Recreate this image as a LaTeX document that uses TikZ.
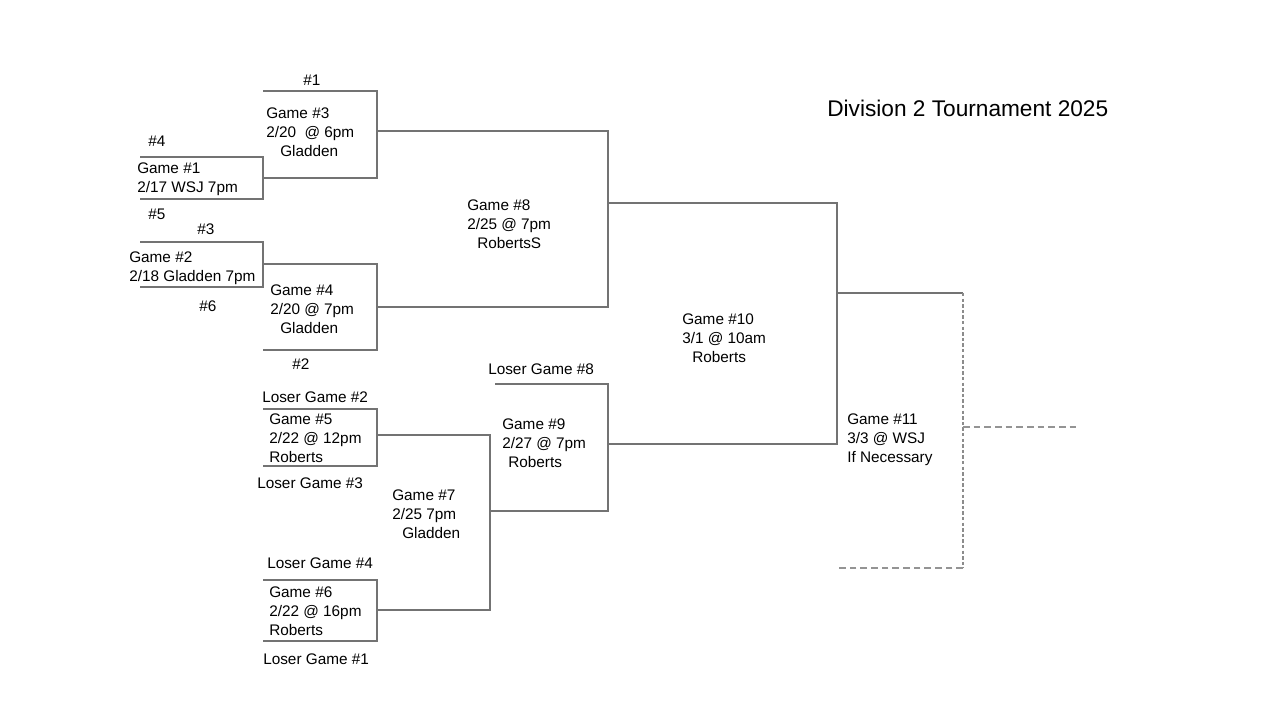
\documentclass[tikz,border=0pt]{standalone}
\usepackage{fontspec}
\setmainfont{Liberation Sans}
\begin{document}
\begin{tikzpicture}[x=0.75pt, y=-0.75pt,
    line/.style={draw=black!55, line width=1.9pt},
    dotline/.style={draw=black!45, line width=2pt, dash pattern=on 2.6pt off 1.6pt},
    dashline/.style={draw=black!42, line width=2pt, dash pattern=on 5pt off 3pt},
    game/.style={font=\fontsize{11.5}{14.25}\selectfont, inner sep=0pt, align=left, anchor=north west},
    seed/.style={font=\fontsize{11.5}{14.25}\selectfont, inner sep=0pt, anchor=west}]
    \useasboundingbox (0,0) rectangle (1280,720);
    \coordinate (A1) at (140, 157);
    \coordinate (A2) at (263, 157);
    \coordinate (A3) at (263, 199);
    \coordinate (A4) at (140, 199);
    \coordinate (AM) at (263, 178);
    \coordinate (B1) at (140, 242);
    \coordinate (B2) at (263, 242);
    \coordinate (B3) at (263, 287);
    \coordinate (B4) at (140, 287);
    \coordinate (BM) at (263, 264);
    \coordinate (C1) at (263, 91);
    \coordinate (C2) at (377, 91);
    \coordinate (C3) at (377, 178);
    \coordinate (CM) at (377, 131);
    \coordinate (D2) at (377, 264);
    \coordinate (D3) at (377, 350);
    \coordinate (D4) at (263, 350);
    \coordinate (DM) at (377, 307);
    \coordinate (H1) at (608, 131);
    \coordinate (H2) at (608, 307);
    \coordinate (HM) at (608, 203);
    \coordinate (E1) at (263, 409);
    \coordinate (E2) at (377, 409);
    \coordinate (E3) at (377, 466);
    \coordinate (E4) at (263, 466);
    \coordinate (EM) at (377, 435);
    \coordinate (F1) at (263, 580);
    \coordinate (F2) at (377, 580);
    \coordinate (F3) at (377, 641);
    \coordinate (F4) at (263, 641);
    \coordinate (FM) at (377, 610);
    \coordinate (S1) at (490, 435);
    \coordinate (S2) at (490, 610);
    \coordinate (SM) at (490, 511);
    \coordinate (N1) at (495, 384);
    \coordinate (N2) at (608, 384);
    \coordinate (N3) at (608, 511);
    \coordinate (NM) at (608, 444);
    \coordinate (T1) at (837, 203);
    \coordinate (T2) at (837, 444);
    \coordinate (TM) at (837, 293);
    \coordinate (X1) at (963, 293);
    \coordinate (X2) at (963, 568);
    \coordinate (X3) at (838, 568);
    \coordinate (XM) at (963, 427);
    \coordinate (XE) at (1080, 427);
    \draw[line] (A1) -- (A2) -- (A3) -- (A4);
    \draw[line] (B1) -- (B2) -- (B3) -- (B4);
    \draw[line] (C1) -- (C2) -- (C3) -- (AM);
    \draw[line] (BM) -- (D2) -- (D3) -- (D4);
    \draw[line] (CM) -- (H1) -- (H2) -- (DM);
    \draw[line] (E1) -- (E2) -- (E3) -- (E4);
    \draw[line] (F1) -- (F2) -- (F3) -- (F4);
    \draw[line] (EM) -- (S1) -- (S2) -- (FM);
    \draw[line] (N1) -- (N2) -- (N3) -- (SM);
    \draw[line] (HM) -- (T1) -- (T2) -- (NM);
    \draw[line] (TM) -- (X1);
    \draw[dotline] (X1) -- (X2);
    \draw[dashline] (X2) -- (X3);
    \draw[dashline] (XM) -- (XE);
    \node[seed] (s1) at (303, 80) {\#1};
    \node[seed] (s4) at (148, 141) {\#4};
    \node[seed] (s5) at (148, 214) {\#5};
    \node[seed] (s3) at (197, 229) {\#3};
    \node[seed] (s6) at (199, 306) {\#6};
    \node[seed] (s2) at (292, 364) {\#2};
    \node[seed] (l2) at (262, 397) {Loser Game \#2};
    \node[seed] (l3) at (257, 483) {Loser Game \#3};
    \node[seed] (l4) at (267, 563) {Loser Game \#4};
    \node[seed] (l1) at (263, 659) {Loser Game \#1};
    \node[seed] (l8) at (488, 369) {Loser Game \#8};
    \node[game] (g1) at (137, 162.5) {Game \#1\\2/17 WSJ 7pm};
    \node[game] (g2) at (129, 252) {Game \#2\\2/18 Gladden 7pm};
    \node[game] (g3) at (266, 107.5) {Game \#3\\2/20~ @ 6pm\\\hspace*{10.5pt}Gladden};
    \node[game] (g4) at (270, 284.5) {Game \#4\\2/20 @ 7pm\\\hspace*{7.5pt}Gladden};
    \node[game] (g5) at (269, 413.5) {Game \#5\\2/22 @ 12pm\\Roberts};
    \node[game] (g6) at (269, 587) {Game \#6\\2/22 @ 16pm\\Roberts};
    \node[game] (g7) at (392, 490) {Game \#7\\2/25 7pm\\\hspace*{7.5pt}Gladden};
    \node[game] (g8) at (467, 199.5) {Game \#8\\2/25 @ 7pm\\\hspace*{7.5pt}RobertsS};
    \node[game] (g9) at (502, 418.5) {Game \#9\\2/27 @ 7pm\\\hspace*{4.5pt}Roberts};
    \node[game] (g10) at (682, 313.5) {Game \#10\\3/1 @ 10am\\\hspace*{7.5pt}Roberts};
    \node[game] (g11) at (847, 413.5) {Game \#11\\3/3 @ WSJ\\If Necessary};
    \node[seed, font=\fontsize{17}{20}\selectfont] (title) at (827, 108) {Division 2 Tournament 2025};
\end{tikzpicture}
\end{document}
